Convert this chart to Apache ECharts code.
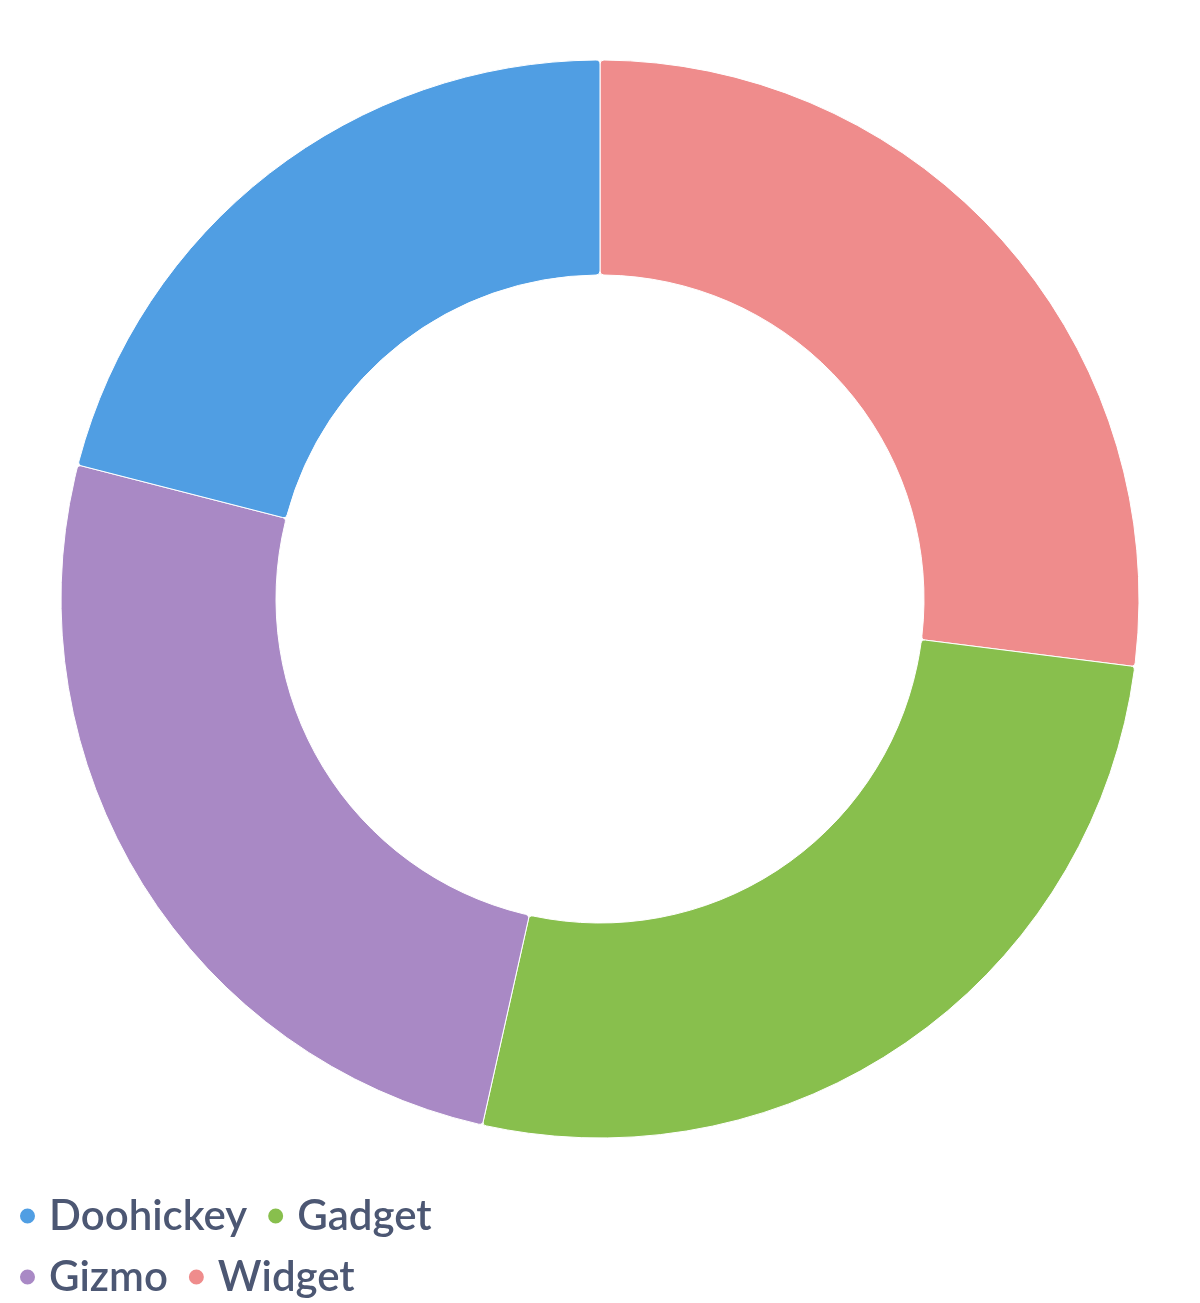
<!DOCTYPE html>
<html>
<head>
<meta charset="utf-8">
<script src="https://cdn.jsdelivr.net/npm/echarts@6/dist/echarts.min.js"></script>
<style>
html,body{margin:0;padding:0;background:#fff;}
#chart{width:1200px;height:1303px;}
</style>
</head>
<body>
<div id="chart"></div>
<script>
// Pie slices ordered by value (descending), clockwise from 12 o'clock
const sliceNames = ['Widget', 'Gadget', 'Gizmo', 'Doohickey'];
const sliceCounts = [54, 53, 51, 42];
// Legend order (alphabetical)
const legendNames = ['Doohickey', 'Gadget', 'Gizmo', 'Widget'];
const colorByName = { Doohickey: '#509EE3', Gadget: '#88BF4D', Gizmo: '#A989C5', Widget: '#EF8C8C' };

const chart = echarts.init(document.getElementById('chart'));
chart.setOption({
  animation: false,
  legend: {
    data: legendNames,
    left: 13,
    top: 1190,
    width: 440,
    icon: 'circle',
    itemWidth: 17,
    itemHeight: 17,
    itemGap: 19,
    textStyle: {
      fontFamily: 'Lato',
      fontSize: 42,
      fontWeight: 600,
      color: '#4C5773',
      lineHeight: 40,
      padding: [0, 0, 0, 8]
    }
  },
  series: [{
    type: 'pie',
    clockwise: true,
    startAngle: 90,
    center: [600, 599],
    radius: [324, 539],
    label: { show: false },
    labelLine: { show: false },
    itemStyle: { borderColor: '#fff', borderWidth: 1, borderRadius: 4 },
    data: sliceNames.map((n, i) => ({ name: n, value: sliceCounts[i], itemStyle: { color: colorByName[n] } }))
  }]
});
</script>
</body>
</html>
